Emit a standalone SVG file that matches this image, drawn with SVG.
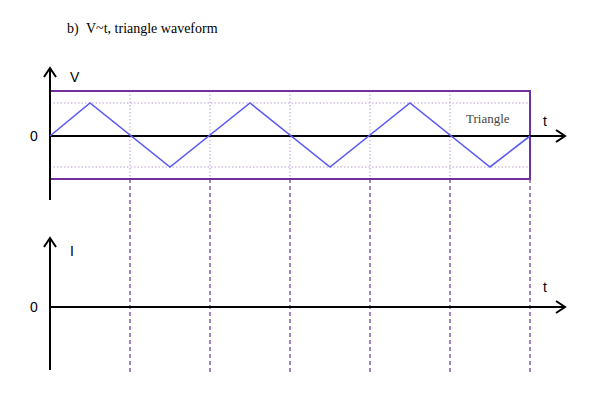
<svg xmlns="http://www.w3.org/2000/svg" width="607" height="405" viewBox="0 0 607 405">
<style>
.ax{stroke:#000;stroke-width:2;fill:none}
.dot{stroke:#b9a0d6;stroke-width:1;stroke-dasharray:1.5,2;fill:none}
.dash{stroke:#7030a0;stroke-width:1.2;stroke-dasharray:4,3;fill:none}
.s{font-family:"Liberation Sans",Arial,sans-serif;font-size:14px;fill:#000}
</style>
<rect width="607" height="405" fill="#fff"/>
<text x="67" y="33" font-family="Liberation Serif,serif" font-size="14">b)<tspan x="86">V~t, triangle waveform</tspan></text>
<g id="grid">
<path class="dot" d="M50 103H530M50 167H530M130 91V179M210 91V179M290 91V179M370 91V179M450 91V179"/>
<path class="dash" d="M130 179V375M210 179V375M290 179V375M370 179V375M450 179V375M530 179V375"/>
</g>
<rect id="box" x="50" y="91" width="480" height="88" fill="none" stroke="#7030a0" stroke-width="2"/>
<g id="connectors">
<path class="ax" d="M50 200V68M44 77L50 68L56 77M50 136H565M556 130L565 136L556 142"/>
<path class="ax" d="M50 370V238M44 247L50 238L56 247M50 307H565M556 301L565 307L556 313"/>
</g>
<polyline id="wave" fill="none" stroke="#5a5af5" stroke-width="1.6" points="50,136 90,103 170,167 250,103 330,167 410,103 490,167 530,136"/>
<text x="466" y="123" font-family="Liberation Serif,serif" font-size="13" fill="#444">Triangle</text>
<text class="s" x="70" y="82">V</text>
<text class="s" x="30" y="141">0</text>
<text class="s" x="543" y="126">t</text>
<text class="s" x="70" y="256">I</text>
<text class="s" x="30" y="312">0</text>
<text class="s" x="543" y="292">t</text>
</svg>
